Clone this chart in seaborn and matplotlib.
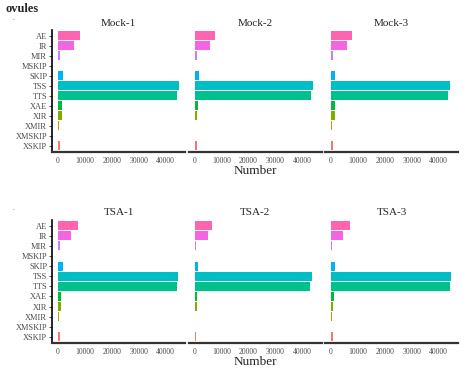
import numpy as np
import pandas as pd
import seaborn as sns
import matplotlib.pyplot as plt

# event types (top to bottom)
categories = ['AE', 'IR', 'MIR', 'MSKIP', 'SKIP', 'TSS', 'TTS',
              'XAE', 'XIR', 'XMIR', 'XMSKIP', 'XSKIP']

# counts per sample, same order as categories
mock1 = [8300, 5900, 900, 100, 1950, 44900, 44150, 1600, 1350, 300, 150, 700]
mock2 = [7500, 5700, 750, 100, 1700, 43900, 43200, 1450, 1000, 250, 150, 850]
mock3 = [7600, 6100, 750, 100, 1600, 44000, 43300, 1450, 1350, 250, 150, 600]
tsa1 = [7400, 4700, 700, 100, 1850, 44700, 44000, 1250, 1000, 250, 150, 700]
tsa2 = [6500, 4900, 500, 100, 1350, 43500, 43000, 1000, 750, 250, 150, 500]
tsa3 = [6900, 4400, 500, 100, 1450, 44500, 44000, 1100, 850, 250, 150, 600]

samples = ['Mock-1', 'Mock-2', 'Mock-3', 'TSA-1', 'TSA-2', 'TSA-3']
values = [mock1, mock2, mock3, tsa1, tsa2, tsa3]
xticks = [0, 10000, 20000, 30000, 40000]

df = pd.concat([pd.DataFrame({'sample': s, 'type': categories, 'count': v})
                for s, v in zip(samples, values)])

# ggplot default hue palette, first level (XSKIP) red
hues = ['#F8766D', '#DE8C00', '#B79F00', '#7CAE00', '#00BA38', '#00C08B',
        '#00BFC4', '#00B4F0', '#619CFF', '#C77CFF', '#F564E3', '#FF64B0']
palette = dict(zip(categories[::-1], hues))

sns.set_style('white')
plt.rcParams['font.family'] = ['Liberation Serif', 'DejaVu Serif']

W, H = 474, 371
fig = plt.figure(figsize=(W / 100, H / 100), dpi=100)

xmax = df['count'].max()
xlim = (-0.05 * xmax, 1.05 * xmax)
lefts = [52, 188.5, 325]
rows = [(30, 151.7), (219.6, 343)]

for i, s in enumerate(samples):
    r, c = divmod(i, 3)
    top, bot = rows[r]
    ax = fig.add_axes([lefts[c] / W, 1 - bot / H, 133 / W, (bot - top) / H])
    sub = df[df['sample'] == s]
    sns.barplot(data=sub, y='type', x='count', hue='type', order=categories,
                palette=palette, orient='h', width=0.9, legend=False,
                saturation=1, linewidth=0, ax=ax)
    ax.set_xlim(xlim)
    ax.set_ylim(11.6, -0.6)
    ax.set_xticks(xticks)
    ax.set_xticklabels([str(t) for t in xticks], fontsize=5.6, color='#4D4D4D')
    ax.tick_params(axis='x', length=2, width=0.6, color='#333333', pad=1.5)
    ax.set_title(s, fontsize=8, pad=3)
    ax.set_ylabel('')
    ax.set_xlabel('Number' if c == 1 else '', fontsize=9.5, labelpad=0)
    for sp in ['top', 'right']:
        ax.spines[sp].set_visible(False)
    ax.spines['bottom'].set_color('#333333')
    ax.spines['bottom'].set_linewidth(1.6)
    if c == 0:
        ax.spines['left'].set_color('black')
        ax.spines['left'].set_linewidth(1.2)
        ax.set_yticks(range(len(categories)))
        ax.set_yticklabels(categories, fontsize=6, color='#4D4D4D')
        ax.tick_params(axis='y', length=2, width=0.6, color='#333333', pad=1.5,
                       left=True)
    else:
        ax.spines['left'].set_visible(False)
        ax.set_yticks([])

fig.text(6 / W, 1 - 9 / H, 'ovules', fontsize=9, fontweight='bold', va='center')
fig.text(13 / W, 1 - 18 / H, '.', fontsize=5, va='center')
fig.text(13 / W, 1 - 208 / H, '.', fontsize=5, va='center')

fig.savefig('out.png', dpi=100)
